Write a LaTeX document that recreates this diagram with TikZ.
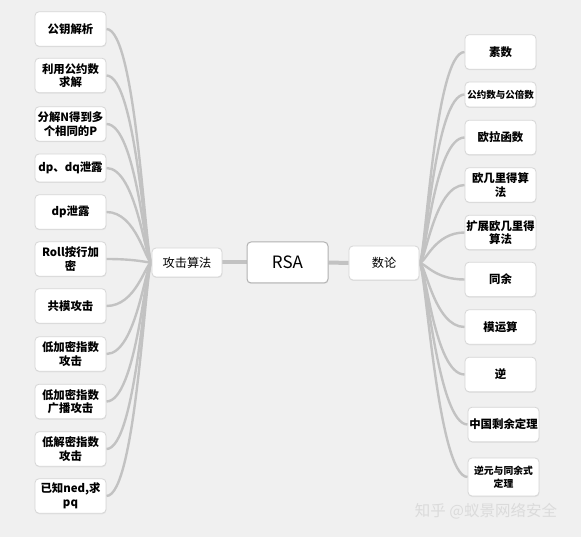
\documentclass[tikz,border=0pt]{standalone}
\usepackage{fontspec}
\setmainfont{Noto Sans CJK SC}
\usetikzlibrary{shadows,backgrounds}
\definecolor{bgc}{HTML}{F0F0F0}
\definecolor{linec}{HTML}{C2C2C2}
\definecolor{boxc}{HTML}{D6D6D6}
\begin{document}
\begin{tikzpicture}[x=1pt,y=-1pt,
  box/.style={draw=boxc, line width=0.8pt, fill=white, rounded corners=4pt,
    align=center, inner sep=1pt,
    drop shadow={shadow xshift=0.4pt, shadow yshift=-1pt, opacity=0.12}},
  leaf/.style={box, minimum width=71pt, minimum height=34.5pt,
    font=\fontsize{11.4}{13.6}\selectfont\bfseries},
  mid/.style={box, minimum width=70pt, minimum height=31pt,
    font=\fontsize{12.2}{14}\selectfont},
  conn/.style={draw=linec, line width=2.4pt},
  trunk/.style={draw=linec, line width=4pt}]
\begin{pgfonlayer}{background}
\fill[bgc] (0,0) rectangle (581,537);
\end{pgfonlayer}
\useasboundingbox (0,0) rectangle (581,537);

% centre
\node[box, minimum width=81pt, minimum height=41pt, draw=black!30, line width=1pt,
  font=\fontsize{17}{19}\selectfont] (rsa) at (287.5,262.5) {RSA};
\node[mid, minimum height=29pt] (atk) at (187,262.5) {攻击算法};
\node[mid, minimum height=34pt] (nt) at (384,263) {数论};

% left leaves
\node[leaf] (l1) at (70.5,29) {公钥解析};
\node[leaf] (l2) at (70.5,75.5) {利用公约数\\求解};
\node[leaf] (l3) at (70.5,124) {分解N得到多\\个相同的P};
\node[leaf, minimum height=28pt] (l4) at (70.5,168) {dp、dq泄露};
\node[leaf] (l5) at (70.5,212) {dp泄露};
\node[leaf] (l6) at (70.5,259) {Roll按行加\\密};
\node[leaf] (l7) at (70.5,306) {共模攻击};
\node[leaf] (l8) at (70.5,354) {低加密指数\\攻击};
\node[leaf] (l9) at (70.5,401.5) {低加密指数\\广播攻击};
\node[leaf] (l10) at (70.5,449) {低解密指数\\攻击};
\node[leaf] (l11) at (70.5,496) {已知ned,求\\pq};

% right leaves
\node[leaf] (r1) at (500.5,52) {素数};
\node[leaf, minimum height=25pt, font=\fontsize{9.5}{11}\selectfont\bfseries] (r2) at (500.5,94.5) {公约数与公倍数};
\node[leaf] (r3) at (500.5,137.5) {欧拉函数};
\node[leaf] (r4) at (500.5,185) {欧几里得算\\法};
\node[leaf] (r5) at (500.5,232.5) {扩展欧几里得\\算法};
\node[leaf] (r6) at (500.5,279.5) {同余};
\node[leaf] (r7) at (500.5,327) {模运算};
\node[leaf] (r8) at (500.5,374.5) {逆};
\node[leaf] (r9) at (503.5,424.5) {中国剩余定理};
\node[leaf, minimum height=38pt, font=\fontsize{9.8}{12.5}\selectfont\bfseries] (r10) at (503.5,477) {逆元与同余式\\定理};

% watermark
\node[text=black!14, font=\fontsize{15.5}{17}\selectfont, inner sep=0pt] (wm) at (486,511) {知乎 @蚁景网络安全};

\begin{pgfonlayer}{background}
\draw[trunk] (atk.east) -- (rsa.west);
\draw[trunk] (rsa.east) -- (nt.west);
\foreach \n in {l1,l2,l3,l4,l5,l6,l7,l8,l9,l10,l11}
  \draw[conn] (atk.west) .. controls +(-6,0) and +(30,0) .. (\n.east);
\foreach \n in {r1,r2,r3,r4,r5,r6,r7,r8,r9,r10}
  \draw[conn] (nt.east) .. controls +(6,0) and +(-30,0) .. (\n.west);
\end{pgfonlayer}
\end{tikzpicture}
\end{document}
